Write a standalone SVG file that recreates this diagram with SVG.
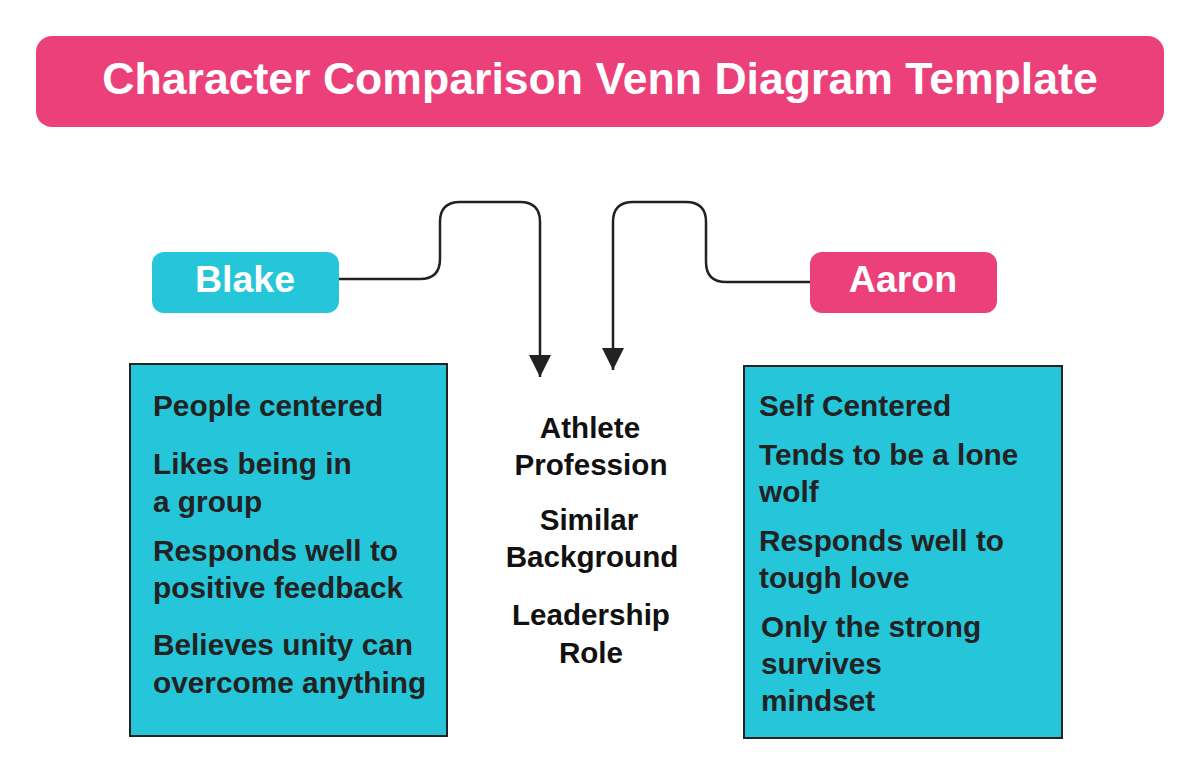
<svg xmlns="http://www.w3.org/2000/svg" width="1200" height="773" viewBox="0 0 1200 773">
<defs>
<style>
.t{font-family:"Liberation Sans",Arial,sans-serif;font-weight:bold}
.body{font-size:29.8px;fill:#222222}
.mid{font-size:29.6px;fill:#111111;text-anchor:middle}
.lbl{font-size:37.5px;fill:#ffffff;text-anchor:middle}
.conn{fill:none;stroke:#222222;stroke-width:2.5}
.box{fill:#26C6DA;stroke:#222222;stroke-width:2}
</style>
<marker id="arr" viewBox="0 0 10 10" refX="10" refY="5" markerWidth="22" markerHeight="22" markerUnits="userSpaceOnUse" orient="auto">
<path d="M0,0 L10,5 L0,10 Z" fill="#222222"/>
</marker>
</defs>
<rect width="1200" height="773" fill="#ffffff"/>
<g id="title">
<rect x="36" y="36" width="1128" height="91" rx="16" fill="#EC407A"/>
<text class="t" x="600" y="94" font-size="44.6" fill="#ffffff" text-anchor="middle">Character Comparison Venn Diagram Template</text>
</g>
<g id="connectors">
<path class="conn" d="M339,279 H420 Q440,279 440,259 V222 Q440,202 460,202 H520 Q540,202 540,222 V377" marker-end="url(#arr)"/>
<path class="conn" d="M810,282 H726 Q706,282 706,262 V222 Q706,202 686,202 H633 Q613,202 613,222 V370" marker-end="url(#arr)"/>
</g>
<g id="blake">
<rect x="152" y="252" width="187" height="61" rx="12" fill="#26C6DA"/>
<text class="t lbl" x="245" y="292">Blake</text>
</g>
<g id="aaron">
<rect x="810" y="252" width="187" height="61" rx="12" fill="#EC407A"/>
<text class="t lbl" x="903" y="292">Aaron</text>
</g>
<g id="blake-traits">
<rect class="box" x="130" y="364" width="317" height="372"/>
<text class="t body" x="153" y="416">People centered</text>
<text class="t body" x="153" y="474">Likes being in</text>
<text class="t body" x="153" y="512">a group</text>
<text class="t body" x="153" y="561">Responds well to</text>
<text class="t body" x="153" y="598">positive feedback</text>
<text class="t body" x="153" y="655">Believes unity can</text>
<text class="t body" x="153" y="693">overcome anything</text>
</g>
<g id="shared-traits">
<text class="t mid" x="590" y="438">Athlete</text>
<text class="t mid" x="591" y="475">Profession</text>
<text class="t mid" x="589" y="530">Similar</text>
<text class="t mid" x="592" y="567">Background</text>
<text class="t mid" x="591" y="625">Leadership</text>
<text class="t mid" x="591" y="663">Role</text>
</g>
<g id="aaron-traits">
<rect class="box" x="744" y="366" width="318" height="372"/>
<text class="t body" x="759" y="416">Self Centered</text>
<text class="t body" x="759" y="465">Tends to be a lone</text>
<text class="t body" x="759" y="502">wolf</text>
<text class="t body" x="759" y="551">Responds well to</text>
<text class="t body" x="759" y="588">tough love</text>
<text class="t body" x="761" y="637">Only the strong</text>
<text class="t body" x="761" y="674">survives</text>
<text class="t body" x="761" y="711">mindset</text>
</g>
</svg>
